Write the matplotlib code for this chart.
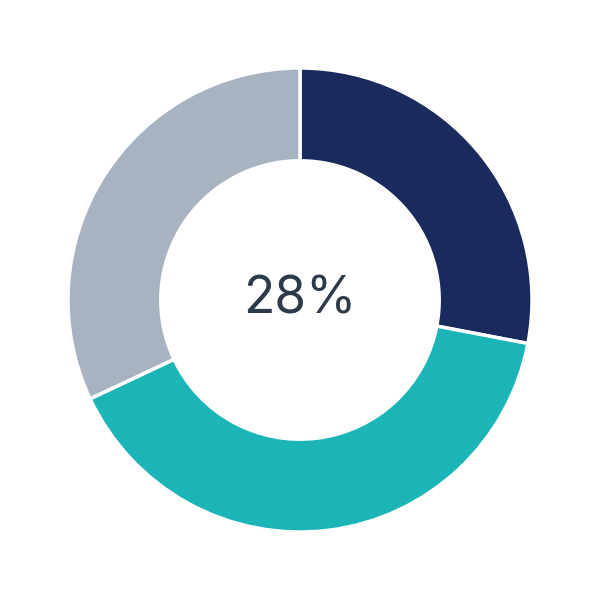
import matplotlib
matplotlib.use("Agg")
import matplotlib.pyplot as plt

labels = ["Navy", "Teal", "Gray"]
values = [28, 40, 32]
colors = ["#1b2a5c", "#1bb5b8", "#a8b3c2"]
center_label = "28%"

fig, ax = plt.subplots(figsize=(6, 6), dpi=100)
fig.subplots_adjust(left=0, right=1, bottom=0, top=1)

ax.pie(values, colors=colors, startangle=90, counterclock=False,
       radius=1.0,
       wedgeprops=dict(width=0.40, edgecolor="white", linewidth=2.5))
ax.text(0, 0, center_label, ha="center", va="center",
        fontsize=37, color="#2d3a4a", family=["Inter", "DejaVu Sans"])

ax.set_xlim(-1.293, 1.293)
ax.set_ylim(-1.293, 1.293)
ax.set_aspect("equal")
ax.axis("off")

plt.savefig("out.png", dpi=100, facecolor="white")
